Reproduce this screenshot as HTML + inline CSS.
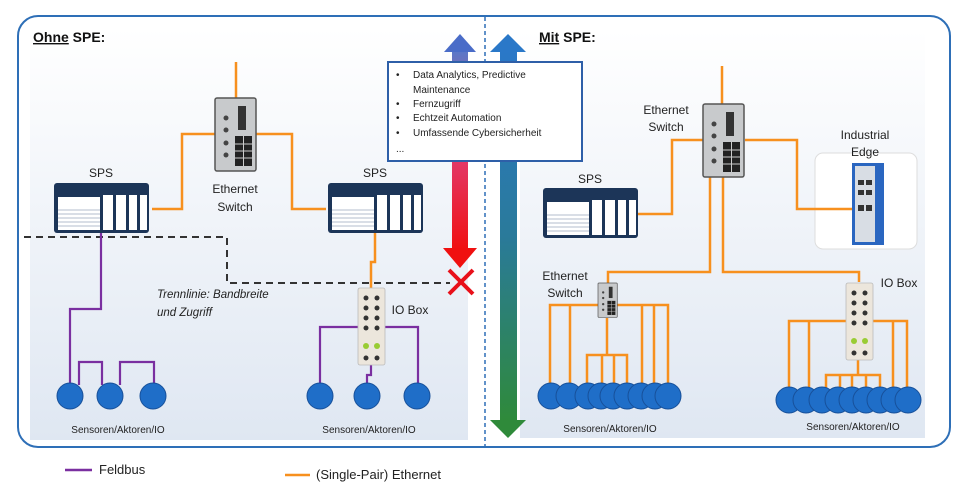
<!DOCTYPE html>
<html><head><meta charset="utf-8"><style>
html,body{margin:0;padding:0;background:#fff;}
svg{display:block;font-family:"Liberation Sans",sans-serif;}
</style></head><body>
<svg width="960" height="489" viewBox="0 0 960 489" xmlns="http://www.w3.org/2000/svg">
<defs>
<linearGradient id="pg" x1="0" y1="0" x2="0" y2="1"><stop offset="0" stop-color="#ffffff"/><stop offset="1" stop-color="#dfe7f2"/></linearGradient>
<linearGradient id="rg" x1="0" y1="0" x2="0" y2="1"><stop offset="0" stop-color="#5a78c8"/><stop offset="0.45" stop-color="#e0407a"/><stop offset="1" stop-color="#f01010"/></linearGradient>
<linearGradient id="gg" x1="0" y1="0" x2="0" y2="1"><stop offset="0" stop-color="#2a78c8"/><stop offset="0.5" stop-color="#2a7a9a"/><stop offset="1" stop-color="#2f8a3a"/></linearGradient>
<g id="sps">
<rect x="0" y="0" width="95" height="50" rx="3" fill="#1c3558"/>
<rect x="4" y="14" width="42" height="33" fill="#fff"/>
<g stroke="#9aa8bc" stroke-width="0.8"><line x1="4" y1="27" x2="46" y2="27"/><line x1="4" y1="31" x2="46" y2="31"/><line x1="4" y1="35" x2="46" y2="35"/><line x1="4" y1="39" x2="46" y2="39"/><line x1="4" y1="43" x2="46" y2="43"/></g>
<rect x="49" y="4" width="10" height="43" fill="#fff"/><rect x="62" y="4" width="10" height="43" fill="#fff"/><rect x="75" y="4" width="8" height="43" fill="#fff"/><rect x="86" y="4" width="7" height="43" fill="#fff"/>
<rect x="49" y="4" width="44" height="8" fill="#1c3558"/>
</g>
<g id="sw">
<rect x="0" y="0" width="41" height="73" rx="2" fill="#c8cacc" stroke="#555" stroke-width="1.5"/>
<rect x="23" y="8" width="8" height="24" fill="#333"/>
<circle cx="11" cy="20" r="2.5" fill="#444"/><circle cx="11" cy="32" r="2.5" fill="#444"/><circle cx="11" cy="45" r="2.5" fill="#444"/><circle cx="11" cy="57" r="2.5" fill="#444"/>
<rect x="20" y="38" width="17" height="30" fill="#222"/>
<g stroke="#ccc" stroke-width="1"><line x1="28.5" y1="38" x2="28.5" y2="68"/><line x1="20" y1="46" x2="37" y2="46"/><line x1="20" y1="53" x2="37" y2="53"/><line x1="20" y1="60" x2="37" y2="60"/></g>
</g>
<g id="io">
<rect x="0" y="0" width="27" height="77" rx="2" fill="#ece6dc" stroke="#bbb" stroke-width="0.8"/>
<g fill="#333"><circle cx="8" cy="10" r="2.5"/><circle cx="19" cy="10" r="2.5"/><circle cx="8" cy="20" r="2.5"/><circle cx="19" cy="20" r="2.5"/><circle cx="8" cy="30" r="2.5"/><circle cx="19" cy="30" r="2.5"/><circle cx="8" cy="40" r="2.5"/><circle cx="19" cy="40" r="2.5"/><circle cx="8" cy="70" r="2.5"/><circle cx="19" cy="70" r="2.5"/></g>
<circle cx="8" cy="58" r="3" fill="#9c3"/><circle cx="19" cy="58" r="3" fill="#9c3"/>
</g>
</defs>

<rect x="18" y="16" width="932" height="431" rx="20" fill="#fff" stroke="#2e6fb7" stroke-width="2"/>
<rect x="30" y="28" width="438" height="412" fill="url(#pg)"/>
<rect x="520" y="30" width="405" height="408" fill="url(#pg)"/>
<line x1="485" y1="17" x2="485" y2="446" stroke="#2e6fb7" stroke-width="1.5" stroke-dasharray="4,3"/>

<text x="33" y="42" font-size="14" font-weight="bold" fill="#111"><tspan text-decoration="underline">Ohne</tspan> SPE:</text>
<text x="539" y="42" font-size="14" font-weight="bold" fill="#111"><tspan text-decoration="underline">Mit</tspan> SPE:</text>

<rect x="452" y="51" width="16" height="200" fill="url(#rg)"/>
<polygon points="444,52 460,34 476,52" fill="#4a6cc8"/>
<polygon points="443,248 477,248 460,268" fill="#f01010"/>
<g stroke="#e8101a" stroke-width="4"><line x1="449" y1="270" x2="473" y2="294"/><line x1="473" y1="270" x2="449" y2="294"/></g>
<rect x="500" y="51" width="17" height="370" fill="url(#gg)"/>
<polygon points="490,52 508,34 526,52" fill="#2a78c8"/>
<polygon points="490,420 526,420 508,438" fill="#2f8a3a"/>

<rect x="388" y="62" width="194" height="99" fill="#fff" stroke="#2e5fa8" stroke-width="2"/>
<g font-size="10" fill="#222">
<text x="396" y="78">•</text><text x="413" y="78">Data Analytics, Predictive</text>
<text x="413" y="93">Maintenance</text>
<text x="396" y="107">•</text><text x="413" y="107">Fernzugriff</text>
<text x="396" y="121">•</text><text x="413" y="121">Echtzeit Automation</text>
<text x="396" y="136">•</text><text x="413" y="136">Umfassende Cybersicherheit</text>
<text x="396" y="152">...</text>
</g>

<g stroke="#f7901e" stroke-width="2.5" fill="none">
<polyline points="236,62 236,98"/>
<polyline points="215,134 182,134 182,209 152,209"/>
<polyline points="256,134 292,134 292,209 326,209"/>
<polyline points="375,233 375,262 371,262 371,288"/>
</g>
<polyline points="24,237 227,237 227,283 450,283" stroke="#333" stroke-width="2" fill="none" stroke-dasharray="7,5"/>
<g stroke="#7a2fa0" stroke-width="2.2" fill="none">
<polyline points="101,233 101,309 70,309 70,385"/>
<polyline points="79,385 79,362 102,362 102,385"/>
<polyline points="120,385 120,362 154,362 154,385"/>
<polyline points="358,327 320,327 320,385"/>
<polyline points="385,327 418,327 418,385"/>
<polyline points="371,365 371,375 367,375 367,385"/>
</g>
<use href="#sps" x="54" y="183"/>
<use href="#sps" x="328" y="183"/>
<use href="#sw" x="215" y="98"/>
<use href="#io" x="358" y="288"/>
<g fill="#1f6ec8" stroke="#17509a" stroke-width="1">
<circle cx="70" cy="396" r="13"/><circle cx="110" cy="396" r="13"/><circle cx="153" cy="396" r="13"/>
<circle cx="320" cy="396" r="13"/><circle cx="367" cy="396" r="13"/><circle cx="417" cy="396" r="13"/>
</g>
<g font-size="12" fill="#222" text-anchor="middle">
<text x="101" y="177">SPS</text><text x="375" y="177">SPS</text>
<text x="235" y="193">Ethernet</text><text x="235" y="211">Switch</text>
<text x="118" y="433" font-size="10">Sensoren/Aktoren/IO</text>
<text x="369" y="433" font-size="10">Sensoren/Aktoren/IO</text>
</g>
<text x="410" y="314" font-size="12" fill="#222" text-anchor="middle">IO Box</text>
<text x="157" y="298" font-size="11.5" font-style="italic" fill="#222">Trennlinie: Bandbreite</text>
<text x="157" y="316" font-size="11.5" font-style="italic" fill="#222">und Zugriff</text>

<rect x="815" y="153" width="102" height="96" rx="8" fill="#fff" stroke="#ddd"/>
<g stroke="#f7901e" stroke-width="2.5" fill="none">
<polyline points="722,66 722,104"/>
<polyline points="703,140 672,140 672,214 637,214"/>
<polyline points="745,140 797,140 797,209 852,209"/>
<polyline points="710,176 710,272 608,272 608,285"/>
<polyline points="723,176 723,272 859,272 859,282"/>
<polyline points="550,393 550,305 598,305"/>
<line x1="570" y1="305" x2="570" y2="393"/>
<polyline points="617,305 668,305 668,393"/>
<line x1="642" y1="305" x2="642" y2="393"/>
<line x1="654" y1="305" x2="654" y2="393"/>
<polyline points="607,318 607,355"/>
<polyline points="587,390 587,355 627,355 627,390"/>
<line x1="602" y1="355" x2="602" y2="390"/>
<line x1="614" y1="355" x2="614" y2="390"/>
<polyline points="789,400 789,321 847,321"/>
<line x1="809" y1="321" x2="809" y2="400"/>
<polyline points="872,321 907,321 907,400"/>
<line x1="893" y1="321" x2="893" y2="400"/>
<polyline points="858,360 858,375"/>
<polyline points="826,395 826,375 880,375 880,395"/>
<line x1="840" y1="375" x2="840" y2="395"/>
<line x1="852" y1="375" x2="852" y2="395"/>
<line x1="866" y1="375" x2="866" y2="395"/>
</g>
<use href="#sps" x="543" y="188"/>
<use href="#sw" x="703" y="104"/>
<g transform="translate(598,283) scale(0.47)"><use href="#sw"/></g>
<use href="#io" x="846" y="283"/>
<rect x="852" y="163" width="32" height="82" fill="#2a66c0"/>
<rect x="855" y="166" width="20" height="76" fill="#d8dde4"/>
<g fill="#333"><rect x="858" y="180" width="6" height="5"/><rect x="866" y="180" width="6" height="5"/><rect x="858" y="190" width="6" height="5"/><rect x="866" y="190" width="6" height="5"/><rect x="858" y="205" width="6" height="6"/><rect x="866" y="205" width="6" height="6"/></g>
<g fill="#1f6ec8" stroke="#17509a" stroke-width="1">
<circle cx="551" cy="396" r="13"/><circle cx="569" cy="396" r="13"/><circle cx="588" cy="396" r="13"/><circle cx="601" cy="396" r="13"/><circle cx="613" cy="396" r="13"/><circle cx="627" cy="396" r="13"/><circle cx="641" cy="396" r="13"/><circle cx="655" cy="396" r="13"/><circle cx="668" cy="396" r="13"/>
<circle cx="789" cy="400" r="13"/><circle cx="806" cy="400" r="13"/><circle cx="822" cy="400" r="13"/><circle cx="838" cy="400" r="13"/><circle cx="852" cy="400" r="13"/><circle cx="866" cy="400" r="13"/><circle cx="880" cy="400" r="13"/><circle cx="894" cy="400" r="13"/><circle cx="908" cy="400" r="13"/>
</g>
<g font-size="12" fill="#222" text-anchor="middle">
<text x="590" y="183">SPS</text>
<text x="666" y="114">Ethernet</text><text x="666" y="131">Switch</text>
<text x="865" y="139">Industrial</text><text x="865" y="156">Edge</text>
<text x="565" y="280">Ethernet</text><text x="565" y="297">Switch</text>
<text x="899" y="287">IO Box</text>
<text x="610" y="432" font-size="10">Sensoren/Aktoren/IO</text>
<text x="853" y="430" font-size="10">Sensoren/Aktoren/IO</text>
</g>

<line x1="65" y1="470" x2="92" y2="470" stroke="#7a2fa0" stroke-width="2.5"/>
<text x="99" y="474" font-size="13" fill="#222">Feldbus</text>
<line x1="285" y1="475" x2="310" y2="475" stroke="#f7901e" stroke-width="2.5"/>
<text x="316" y="479" font-size="13" fill="#222">(Single-Pair) Ethernet</text>
</svg>
</body></html>
